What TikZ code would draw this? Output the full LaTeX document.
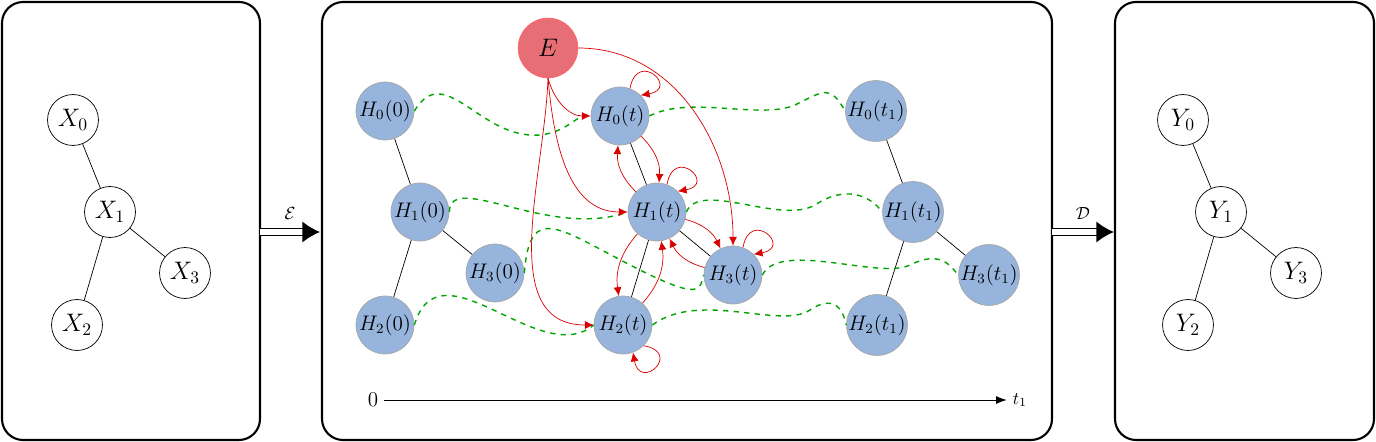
\documentclass[tikz,border=0pt]{standalone}
\usetikzlibrary{arrows.meta}
\begin{document}
\begin{tikzpicture}[x=0.02cm,y=-0.02cm,
 panel/.style={draw,line width=1.2pt,rounded corners=12pt},
 wn/.style={circle,draw,fill=white,minimum size=29pt,inner sep=0pt,font=\Large},
 hn/.style={circle,draw=gray!70,fill=hblue,minimum size=33pt,inner sep=0pt,font=\large},
 en/.style={circle,draw=red!60,fill=ered,minimum size=34pt,inner sep=0pt,font=\Large},
 ra/.style={red!85!black,-{Latex[length=5pt,width=4.5pt]}},
 gd/.style={green!65!black,dashed,thick},
 big/.style={double,double distance=3pt,line width=1pt,-{Latex[length=10pt,width=12pt]}}]
\definecolor{hblue}{RGB}{150,180,220}
\definecolor{ered}{RGB}{232,110,118}
\useasboundingbox (0,0) rectangle (1376,442);
\draw[panel] (2,2) rectangle (260,440);
\draw[panel] (322,2) rectangle (1052,440);
\draw[panel] (1115,2) rectangle (1374,440);
% left
\node[wn] (x0) at (73,120) {$X_0$};
\node[wn] (x1) at (110,212) {$X_1$};
\node[wn] (x3) at (185,273) {$X_3$};
\node[wn] (x2) at (77,325) {$X_2$};
\draw (x0)--(x1) (x1)--(x3) (x1)--(x2);
% right
\node[wn] (y0) at (1183,120) {$Y_0$};
\node[wn] (y1) at (1221,212) {$Y_1$};
\node[wn] (y3) at (1296,273) {$Y_3$};
\node[wn] (y2) at (1188,325) {$Y_2$};
\draw (y0)--(y1) (y1)--(y3) (y1)--(y2);
% big arrows
\coordinate (a1) at (260,232); \coordinate (a2) at (320,232);
\coordinate (b1) at (1052,232); \coordinate (b2) at (1114,232);
\draw[big] (a1)--(a2) node[midway,above=3pt] {$\mathcal{E}$};
\draw[big] (b1)--(b2) node[midway,above=3pt] {$\mathcal{D}$};
% H nodes
\node[hn] (h00) at (385,111) {$H_0(0)$};
\node[hn] (h10) at (420,212) {$H_1(0)$};
\node[hn] (h30) at (495,273) {$H_3(0)$};
\node[hn] (h20) at (385,325) {$H_2(0)$};
\node[hn] (h0t) at (620,116) {$H_0(t)$};
\node[hn] (h1t) at (657,212) {$H_1(t)$};
\node[hn] (h3t) at (733,275) {$H_3(t)$};
\node[hn] (h2t) at (623,325) {$H_2(t)$};
\node[hn] (h01) at (876,111) {$H_0(t_1)$};
\node[hn] (h11) at (913,212) {$H_1(t_1)$};
\node[hn] (h31) at (989,275) {$H_3(t_1)$};
\node[hn] (h21) at (877,325) {$H_2(t_1)$};
\node[en] (E) at (548,48) {$E$};
% black edges
\draw (h00)--(h10) (h10)--(h30) (h10)--(h20);
\draw (h0t)--(h1t) (h1t)--(h3t) (h1t)--(h2t);
\draw (h01)--(h11) (h11)--(h31) (h11)--(h21);
% green dashed
\begin{scope}[gd]
\draw (h00.east) .. controls (445,60) and (480,140) .. (540,135) .. controls (570,132) and (580,110) .. (h0t.west);
\draw (h0t.east) .. controls (690,95) and (760,120) .. (795,105) .. controls (825,90) and (830,85) .. (h01.west);
\draw (h10.east) .. controls (450,170) and (550,240) .. (h1t.west);
\draw (h1t.east) .. controls (700,180) and (780,225) .. (815,205) .. controls (845,185) and (870,195) .. (h11.west);
\draw (h30.east) .. controls (530,200) and (560,230) .. (640,270) .. controls (700,300) and (700,290) .. (h3t.west);
\draw (h3t.east) .. controls (780,240) and (880,280) .. (910,265) .. controls (940,250) and (950,265) .. (h31.west);
\draw (h20.east) .. controls (440,240) and (540,370) .. (h2t.west);
\draw (h2t.east) .. controls (700,290) and (780,330) .. (810,310) .. controls (840,290) and (845,320) .. (h21.west);
\end{scope}
% red edges
\begin{scope}[ra]
\draw (E.south) to[out=-75,in=180] (h0t.west);
\draw (E.south) to[out=-85,in=180] (h1t.west);
\draw (E.south) to[out=-92,in=180] (h2t.west);
\draw (E.east) to[out=0,in=90] (h3t.north);
\draw (h0t) to[bend left=25] (h1t);
\draw (h1t) to[bend left=25] (h0t);
\draw (h1t) to[bend right=25] (h2t);
\draw (h2t) to[bend right=25] (h1t);
\draw (h1t) to[bend left=25] (h3t);
\draw (h3t) to[bend left=25] (h1t);
\draw (h0t.70) to[out=80,in=10,looseness=8] (h0t.45);
\draw (h1t.70) to[out=80,in=10,looseness=8] (h1t.45);
\draw (h3t.70) to[out=80,in=10,looseness=8] (h3t.45);
\draw (h2t.-45) to[out=-10,in=-80,looseness=8] (h2t.-70);
\end{scope}
% timeline
\node[font=\large] (zero) at (373,400) {$0$};
\node (tone) at (1020,400) {$t_1$};
\draw[-{Latex[length=6pt]}] (zero.east) -- (tone.west);
\end{tikzpicture}
\end{document}
